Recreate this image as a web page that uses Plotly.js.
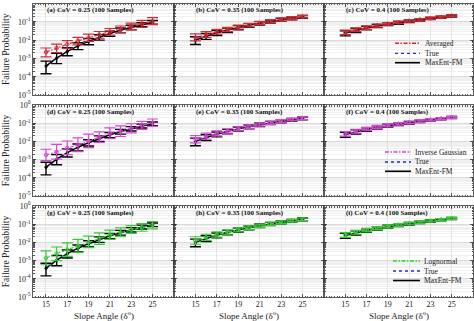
<!DOCTYPE html>
<html><head><meta charset="utf-8">
<script src="https://cdn.plot.ly/plotly-3.0.1.min.js"></script>
<style>html,body{margin:0;padding:0;background:#fff}#chart{width:474px;height:321px}</style>
</head><body><div id="chart"></div>
<script>
// ---------- data ----------
const slopeAngle = [15,16,17,18,19,20,21,22,23,24,25];
const xTickVals = [15,17,19,21,23,25];
const yTickVals = [1e-5,1e-4,1e-3,1e-2,1e-1,1];
const yTickText = ['10<sup>-5</sup>','10<sup>-4</sup>','10<sup>-3</sup>','10<sup>-2</sup>','10<sup>-1</sup>','10<sup>0</sup>'];
const covLabels = ['0.25','0.35','0.4'];
const panelLetters = [['a','b','c'],['d','e','f'],['g','h','i']];
const methodNames = ['Averaged','Inverse Gaussian','Lognormal'];
const xTitle = 'Slope Angle (\u03B4<sup>o</sup>)';
const yTitle = 'Failure Probability';

// True failure probability
const true25 = [3.6e-4,1.0e-3,2.3e-3,4.7e-3,8.4e-3,1.4e-2,2.25e-2,3.45e-2,4.95e-2,7.0e-2,9.4e-2];
const true35 = [1.05e-2,1.7e-2,2.55e-2,3.6e-2,4.95e-2,6.5e-2,8.3e-2,1.04e-1,1.28e-1,1.54e-1,1.85e-1];
const true40 = [2.45e-2,3.45e-2,4.6e-2,5.9e-2,7.4e-2,9.0e-2,1.08e-1,1.29e-1,1.52e-1,1.78e-1,2.1e-1];

// MaxEnt-FM mean, lower and upper bounds
const maxent25   = [3.8e-4,1.05e-3,2.4e-3,4.8e-3,8.5e-3,1.45e-2,2.3e-2,3.5e-2,5.0e-2,7.1e-2,9.5e-2];
const maxent25Lo = [1.45e-4,5.2e-4,1.4e-3,3.0e-3,5.6e-3,1.0e-2,1.6e-2,2.5e-2,3.7e-2,5.4e-2,7.4e-2];
const maxent25Hi = [7.1e-4,1.9e-3,3.8e-3,7.2e-3,1.23e-2,2.0e-2,3.1e-2,4.6e-2,6.5e-2,8.9e-2,1.17e-1];
const maxent35   = [1.0e-2,1.66e-2,2.5e-2,3.55e-2,4.9e-2,6.5e-2,8.3e-2,1.05e-1,1.29e-1,1.55e-1,1.86e-1];
const maxent35Lo = [5.8e-3,1.1e-2,1.78e-2,2.6e-2,3.7e-2,5.0e-2,6.6e-2,8.5e-2,1.05e-1,1.29e-1,1.55e-1];
const maxent35Hi = [1.51e-2,2.3e-2,3.3e-2,4.6e-2,6.2e-2,7.9e-2,1.02e-1,1.26e-1,1.55e-1,1.82e-1,2.2e-1];
const maxent40   = [2.4e-2,3.4e-2,4.6e-2,5.9e-2,7.4e-2,8.9e-2,1.07e-1,1.29e-1,1.51e-1,1.78e-1,2.1e-1];
const maxent40Lo = [1.7e-2,2.57e-2,3.6e-2,4.8e-2,6.2e-2,7.4e-2,9.1e-2,1.1e-1,1.32e-1,1.55e-1,1.82e-1];
const maxent40Hi = [3.2e-2,4.3e-2,5.6e-2,7.1e-2,8.7e-2,1.05e-1,1.23e-1,1.48e-1,1.74e-1,2.0e-1,2.34e-1];

// Averaged
const avg25   = [2.2e-3,3.7e-3,5.9e-3,9.1e-3,1.38e-2,2.0e-2,2.9e-2,4.1e-2,5.6e-2,7.6e-2,1.05e-1];
const avg25Lo = [1.2e-3,2.1e-3,3.5e-3,5.5e-3,8.5e-3,1.26e-2,1.86e-2,2.6e-2,3.7e-2,5.0e-2,7.0e-2];
const avg25Hi = [3.7e-3,6.0e-3,9.3e-3,1.41e-2,2.1e-2,2.95e-2,4.3e-2,5.9e-2,8.5e-2,1.2e-1,1.7e-1];
const avg35   = [1.38e-2,2.0e-2,2.8e-2,3.8e-2,5.1e-2,6.6e-2,8.5e-2,1.07e-1,1.32e-1,1.58e-1,1.9e-1];
const avg35Lo = [9.1e-3,1.41e-2,2.1e-2,2.9e-2,4.0e-2,5.2e-2,6.9e-2,8.7e-2,1.1e-1,1.32e-1,1.62e-1];
const avg35Hi = [2.2e-2,2.9e-2,3.9e-2,5.0e-2,6.6e-2,8.3e-2,1.05e-1,1.32e-1,1.58e-1,1.9e-1,2.24e-1];
const avg40   = [2.7e-2,3.7e-2,4.9e-2,6.3e-2,7.8e-2,9.3e-2,1.12e-1,1.32e-1,1.55e-1,1.82e-1,2.14e-1];
const avg40Lo = [2.0e-2,2.9e-2,3.9e-2,5.1e-2,6.5e-2,7.8e-2,9.5e-2,1.12e-1,1.35e-1,1.58e-1,1.86e-1];
const avg40Hi = [3.55e-2,4.7e-2,6.0e-2,7.6e-2,9.1e-2,1.1e-1,1.29e-1,1.51e-1,1.78e-1,2.04e-1,2.4e-1];

// Inverse Gaussian
const ig25   = [1.8e-3,2.7e-3,4.4e-3,6.5e-3,1.05e-2,1.7e-2,2.75e-2,3.6e-2,5.2e-2,7.4e-2,1.07e-1];
const ig25Lo = [8.7e-4,1.07e-3,1.86e-3,2.7e-3,4.5e-3,8.9e-3,1.41e-2,1.86e-2,2.95e-2,4.5e-2,6.8e-2];
const ig25Hi = [3.7e-3,6.9e-3,1.05e-2,1.58e-2,2.5e-2,3.3e-2,5.5e-2,7.2e-2,9.3e-2,1.26e-1,1.7e-1];
const ig35   = [1.3e-2,1.95e-2,2.75e-2,3.75e-2,5.0e-2,6.5e-2,8.4e-2,1.06e-1,1.3e-1,1.57e-1,1.88e-1];
const ig35Lo = [8.3e-3,1.35e-2,2.0e-2,2.85e-2,3.9e-2,5.2e-2,6.8e-2,8.7e-2,1.09e-1,1.32e-1,1.6e-1];
const ig35Hi = [2.1e-2,2.85e-2,3.8e-2,4.95e-2,6.4e-2,8.1e-2,1.03e-1,1.29e-1,1.56e-1,1.86e-1,2.2e-1];
const ig40   = [2.65e-2,3.65e-2,4.85e-2,6.2e-2,7.7e-2,9.2e-2,1.11e-1,1.31e-1,1.54e-1,1.81e-1,2.13e-1];
const ig40Lo = [1.95e-2,2.85e-2,3.85e-2,5.05e-2,6.4e-2,7.7e-2,9.4e-2,1.11e-1,1.34e-1,1.57e-1,1.85e-1];
const ig40Hi = [3.5e-2,4.65e-2,5.95e-2,7.5e-2,9.0e-2,1.09e-1,1.28e-1,1.5e-1,1.77e-1,2.03e-1,2.39e-1];

// Lognormal
const ln25   = [1.4e-3,2.4e-3,4.0e-3,6.3e-3,1.05e-2,1.6e-2,2.6e-2,3.5e-2,5.0e-2,6.6e-2,8.9e-2];
const ln25Lo = [5.9e-4,1.0e-3,1.7e-3,2.75e-3,5.1e-3,7.8e-3,1.45e-2,2.05e-2,3.1e-2,4.1e-2,5.5e-2];
const ln25Hi = [3.4e-3,5.6e-3,9.5e-3,1.45e-2,2.2e-2,3.3e-2,4.7e-2,6.3e-2,8.3e-2,1.07e-1,1.41e-1];
const ln35   = [1.25e-2,1.9e-2,2.7e-2,3.7e-2,4.95e-2,6.45e-2,8.3e-2,1.05e-1,1.29e-1,1.56e-1,1.87e-1];
const ln35Lo = [7.9e-3,1.3e-2,1.95e-2,2.8e-2,3.85e-2,5.1e-2,6.7e-2,8.6e-2,1.08e-1,1.31e-1,1.59e-1];
const ln35Hi = [2.05e-2,2.8e-2,3.75e-2,4.9e-2,6.35e-2,8.0e-2,1.02e-1,1.28e-1,1.55e-1,1.85e-1,2.19e-1];
const ln40   = [2.6e-2,3.6e-2,4.8e-2,6.15e-2,7.65e-2,9.15e-2,1.1e-1,1.3e-1,1.53e-1,1.8e-1,2.12e-1];
const ln40Lo = [1.9e-2,2.8e-2,3.8e-2,5.0e-2,6.35e-2,7.65e-2,9.3e-2,1.1e-1,1.33e-1,1.56e-1,1.84e-1];
const ln40Hi = [3.45e-2,4.6e-2,5.9e-2,7.45e-2,8.95e-2,1.08e-1,1.27e-1,1.49e-1,1.76e-1,2.02e-1,2.38e-1];

// ---------- assembly ----------
const trueByCov = [true25, true35, true40];
const maxentByCov = [[maxent25,maxent25Lo,maxent25Hi],[maxent35,maxent35Lo,maxent35Hi],[maxent40,maxent40Lo,maxent40Hi]];
const methodByRow = [
  [[avg25,avg25Lo,avg25Hi],[avg35,avg35Lo,avg35Hi],[avg40,avg40Lo,avg40Hi]],
  [[ig25,ig25Lo,ig25Hi],[ig35,ig35Lo,ig35Hi],[ig40,ig40Lo,ig40Hi]],
  [[ln25,ln25Lo,ln25Hi],[ln35,ln35Lo,ln35Hi],[ln40,ln40Lo,ln40Hi]]
];
const methodColors = ['#d42a33','#d846d8','#33cf33'];
const trueColor = '#2a2ad8';
const FONT = 'Liberation Serif, Times New Roman, serif';
const W = 474, H = 321;
const colPx = [[33,174],[174,324],[324,473]];
const colRange = [[13.78,27.02],[13,27],[13,27]];
const rowPx = [[3.5,95],[105,196],[206,297]];
const methodDash = '4px,1.5px,1.5px,1.5px';

function up(c, h){ return h.map((v,i)=>v-c[i]); }
function dn(c, l){ return c.map((v,i)=>v-l[i]); }

const traces = [];
const layout = {
  width: W, height: H,
  margin: {l:0, r:0, t:0, b:0},
  paper_bgcolor: '#fff', plot_bgcolor: '#fff',
  showlegend: false,
  font: {family: FONT, size: 8, color: '#222'},
  annotations: [], shapes: []
};

for (let r = 0; r < 3; r++) {
  for (let c = 0; c < 3; c++) {
    const k = r*3 + c + 1;
    const xa = k === 1 ? 'x' : 'x' + k;
    const ya = k === 1 ? 'y' : 'y' + k;
    const xKey = k === 1 ? 'xaxis' : 'xaxis' + k;
    const yKey = k === 1 ? 'yaxis' : 'yaxis' + k;
    const [m, mLo, mHi] = methodByRow[r][c];
    const [e, eLo, eHi] = maxentByCov[c];
    const col = methodColors[r];

    traces.push({
      x: slopeAngle, y: trueByCov[c], xaxis: xa, yaxis: ya, type: 'scatter', mode: 'lines',
      name: 'True', line: {color: trueColor, width: 1.2, dash: 'dot'}, hoverinfo: 'skip'
    });
    traces.push({
      x: slopeAngle, y: e, xaxis: xa, yaxis: ya, type: 'scatter', mode: 'lines+markers',
      name: 'MaxEnt-FM', line: {color: '#000', width: 1.5},
      marker: {size: 3, color: '#000'},
      error_y: {type: 'data', symmetric: false, array: up(e, eHi), arrayminus: dn(e, eLo),
                color: '#000', thickness: 1.4, width: 5.5}
    });
    traces.push({
      x: slopeAngle, y: m, xaxis: xa, yaxis: ya, type: 'scatter', mode: 'lines+markers',
      name: methodNames[r], line: {color: col, width: 1.2, dash: methodDash},
      marker: {size: 3.5, color: 'rgba(0,0,0,0)', line: {color: col, width: 1}},
      error_y: {type: 'data', symmetric: false, array: up(m, mHi), arrayminus: dn(m, mLo),
                color: col, thickness: 1.2, width: 5.5}
    });

    layout[xKey] = {
      domain: [colPx[c][0]/W, colPx[c][1]/W], anchor: ya, range: colRange[c],
      tickvals: xTickVals, showticklabels: r === 2,
      ticks: 'inside', ticklen: 3, tickcolor: '#333', tickwidth: 0.8,
      showline: true, linecolor: '#333', linewidth: 0.8, mirror: 'ticks',
      showgrid: true, gridcolor: '#dedede', gridwidth: 0.8, zeroline: false,
      tickfont: {family: FONT, size: 8, color: '#222'},
      minor: {dtick: 0.25, ticks: 'inside', ticklen: 1.5, tickcolor: '#333', showgrid: false}
    };
    if (r === 2) {
      layout.annotations.push({
        xref: 'paper', yref: 'paper', x: (colPx[c][0] + colPx[c][1]) / 2 / W, y: 0,
        xanchor: 'center', yanchor: 'bottom', yshift: -1, borderpad: 0,
        text: xTitle, showarrow: false, font: {family: FONT, size: 9, color: '#222'}
      });
    }
    layout[yKey] = {
      domain: [1 - rowPx[r][1]/H, 1 - rowPx[r][0]/H], anchor: xa, type: 'log', range: [-5, 0],
      tickvals: yTickVals, ticktext: yTickText, showticklabels: c === 0,
      ticks: 'inside', ticklen: 3, tickcolor: '#333', tickwidth: 0.8,
      showline: true, linecolor: '#333', linewidth: 0.8, mirror: 'ticks',
      showgrid: true, gridcolor: '#d6d6d6', gridwidth: 0.8, zeroline: false,
      tickfont: {family: FONT, size: 8, color: '#222'},
      minor: {dtick: 'D1', ticks: 'inside', ticklen: 1.5, tickcolor: '#333', showgrid: true, gridcolor: '#e9e9e9', gridwidth: 0.7}
    };
    if (c === 0) {
      layout[yKey].title = {text: yTitle, font: {family: FONT, size: 9.5, color: '#222'}, standoff: 6};
    }
    layout.annotations.push({
      xref: xa, yref: ya + ' domain', x: 14.9, y: 0.925, xanchor: 'left', yanchor: 'middle',
      text: '<b>(' + panelLetters[r][c] + ') CoV = ' + covLabels[c] + ' (100 Samples)</b>',
      showarrow: false, font: {family: FONT, size: 7, color: '#111'}
    });
  }
}

// ---------- hand-drawn legends in the right column ----------
const legendSpec = [
  {x0: 395, x1: 420, tx: 423, rows: [43.3, 53.3, 62.7]},
  {x0: 385, x1: 411, tx: 413, rows: [152, 162, 171.3]},
  {x0: 393, x1: 420, tx: 422, rows: [261, 271, 280.5]}
];
legendSpec.forEach((s, r) => {
  const items = [
    {name: methodNames[r], color: methodColors[r], dash: methodDash, w: 1.5},
    {name: 'True', color: trueColor, dash: 'dot', w: 1.3},
    {name: 'MaxEnt-FM', color: '#000', dash: 'solid', w: 1.6}
  ];
  items.forEach((it, i) => {
    const yy = 1 - s.rows[i]/H;
    layout.shapes.push({type: 'line', xref: 'paper', yref: 'paper', x0: s.x0/W, x1: s.x1/W, y0: yy, y1: yy,
      line: {color: it.color, width: it.w, dash: it.dash}});
    layout.annotations.push({xref: 'paper', yref: 'paper', x: s.tx/W, y: yy, xanchor: 'left', yanchor: 'middle',
      text: it.name, showarrow: false, font: {family: FONT, size: 7.5, color: '#222'}});
  });
});

Plotly.newPlot('chart', traces, layout, {displayModeBar: false, staticPlot: true});
</script>
</body></html>
